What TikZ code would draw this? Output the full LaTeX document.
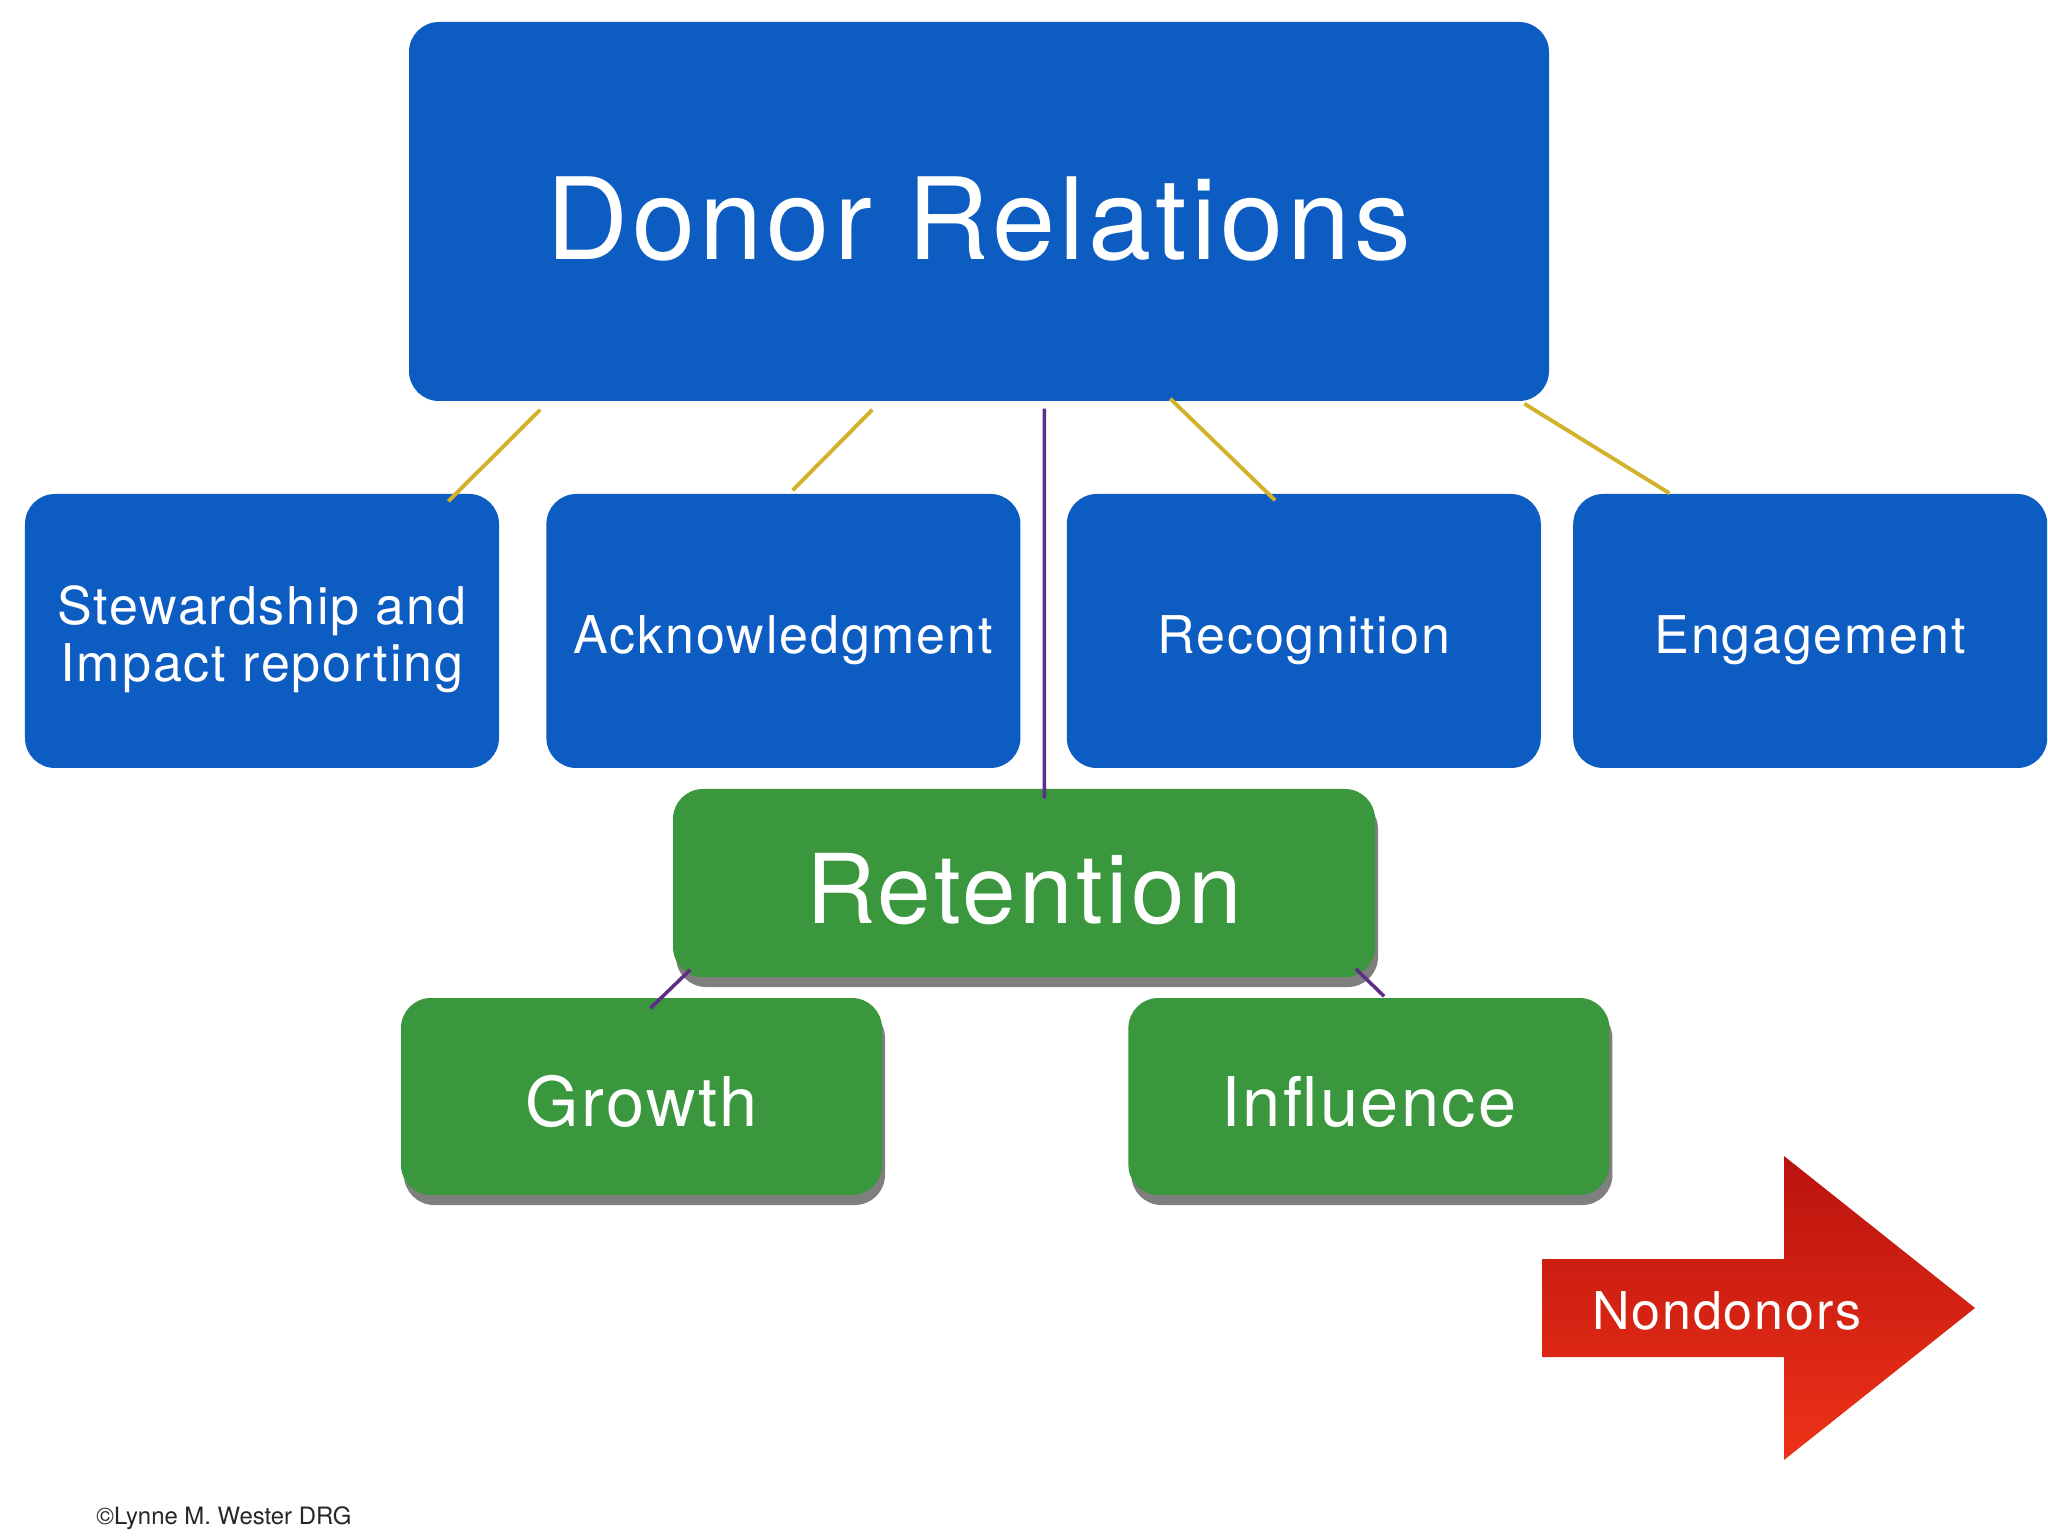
\documentclass[tikz,border=0pt]{standalone}
\usepackage{fontspec}
\setmainfont{TeX Gyre Heros}
\newfontfamily\trackfont[LetterSpace=3.5]{TeX Gyre Heros}
\usepackage{xcolor}
\usetikzlibrary{positioning,shadows}
\definecolor{donorblue}{HTML}{0C5CC2}
\definecolor{feltgreen}{HTML}{3A973E}
\definecolor{shadowgray}{HTML}{7F7F7F}
\definecolor{linkyellow}{HTML}{D2B22A}
\definecolor{linkpurple}{HTML}{5E2D86}
\definecolor{arrowtop}{HTML}{BA130E}
\definecolor{arrowbottom}{HTML}{EE3218}
\tikzset{
    bluebox/.style={fill=donorblue, rounded corners=0.3cm, text=white, align=center, inner sep=0pt, font=\trackfont\fontsize{14.8}{16.3}\selectfont, text height=12.9pt, text depth=0pt, minimum width=4.74cm, minimum height=2.74cm},
    topbox/.style={bluebox, minimum width=11.4cm, minimum height=3.79cm, font=\trackfont\fontsize{32.3}{36}\selectfont, text height=27.1pt},
    greenbox/.style={fill=feltgreen, rounded corners=0.3cm, text=white, inner sep=0pt, font=\trackfont\fontsize{19.5}{22}\selectfont, text height=17.2pt, text depth=0pt, minimum width=4.81cm, minimum height=1.97cm, drop shadow={fill=shadowgray, opacity=1, shadow xshift=0.03cm, shadow yshift=-0.1cm}},
    retbox/.style={greenbox, minimum width=7.02cm, minimum height=1.88cm, font=\trackfont\fontsize{27.4}{30}\selectfont, text height=23.1pt},
    goldlink/.style={draw=linkyellow, line width=1.1pt},
    purplelink/.style={draw=linkpurple, line width=1pt}
}
\begin{document}
\begin{tikzpicture}[node distance=0.45cm and 0.46cm]
        \useasboundingbox[fill=white] (0,0) rectangle (20.48,-15.36);

        \node[topbox] (donor) at (9.79,-2.115) {Donor Relations};
        \node[bluebox, text height=28.7pt] (stew) at (2.62,-6.31) {Stewardship and\\Impact reporting};
        \node[bluebox, right=0.46cm of stew] (ack) {Acknowledgment};
        \node[bluebox, right=0.45cm of ack] (rec) {Recognition};
        \node[bluebox, right=0.31cm of rec] (eng) {Engagement};

        \node[retbox] (ret) at (10.24,-8.83) {Retention};
        \node[greenbox] (growth) at (6.415,-10.965) {Growth};
        \node[greenbox, right=2.45cm of growth] (infl) {Influence};

        \draw[goldlink] ([shift={(1.32,-0.08)}]donor.south west) -- ([shift={(4.24,-0.08)}]stew.north west);
        \draw[goldlink] ([shift={(4.64,-0.08)}]donor.south west) -- ([shift={(2.47,0.03)}]ack.north west);
        \draw[goldlink] ([shift={(7.62,0.03)}]donor.south west) -- ([shift={(2.09,-0.07)}]rec.north west);
        \draw[goldlink] ([shift={(11.16,-0.02)}]donor.south west) -- ([shift={(0.97,0)}]eng.north west);
        \draw[purplelink] ([shift={(6.36,-0.07)}]donor.south west) -- ([shift={(3.72,-0.10)}]ret.north west);
        \draw[purplelink] ([shift={(0.18,0.08)}]ret.south west) -- ([shift={(2.50,-0.11)}]growth.north west);
        \draw[purplelink] ([shift={(-0.20,0.09)}]ret.south east) -- ([shift={(-2.26,0.01)}]infl.north east);

        \shade[top color=arrowtop, bottom color=arrowbottom] (15.42,-12.59) -- (17.84,-12.59) -- (17.84,-11.56) -- (19.75,-13.08) -- (17.84,-14.60) -- (17.84,-13.57) -- (15.42,-13.57) -- cycle;
        \node[text=white, font=\trackfont\fontsize{14.8}{16}\selectfont] (nondonors) at (17.27,-13.11) {Nondonors};

        \node[anchor=west, text=black!85, font=\fontsize{6.8}{8}\selectfont] (credit) at (0.84,-15.18) {©Lynne M. Wester DRG};
    \end{tikzpicture}
\end{document}
